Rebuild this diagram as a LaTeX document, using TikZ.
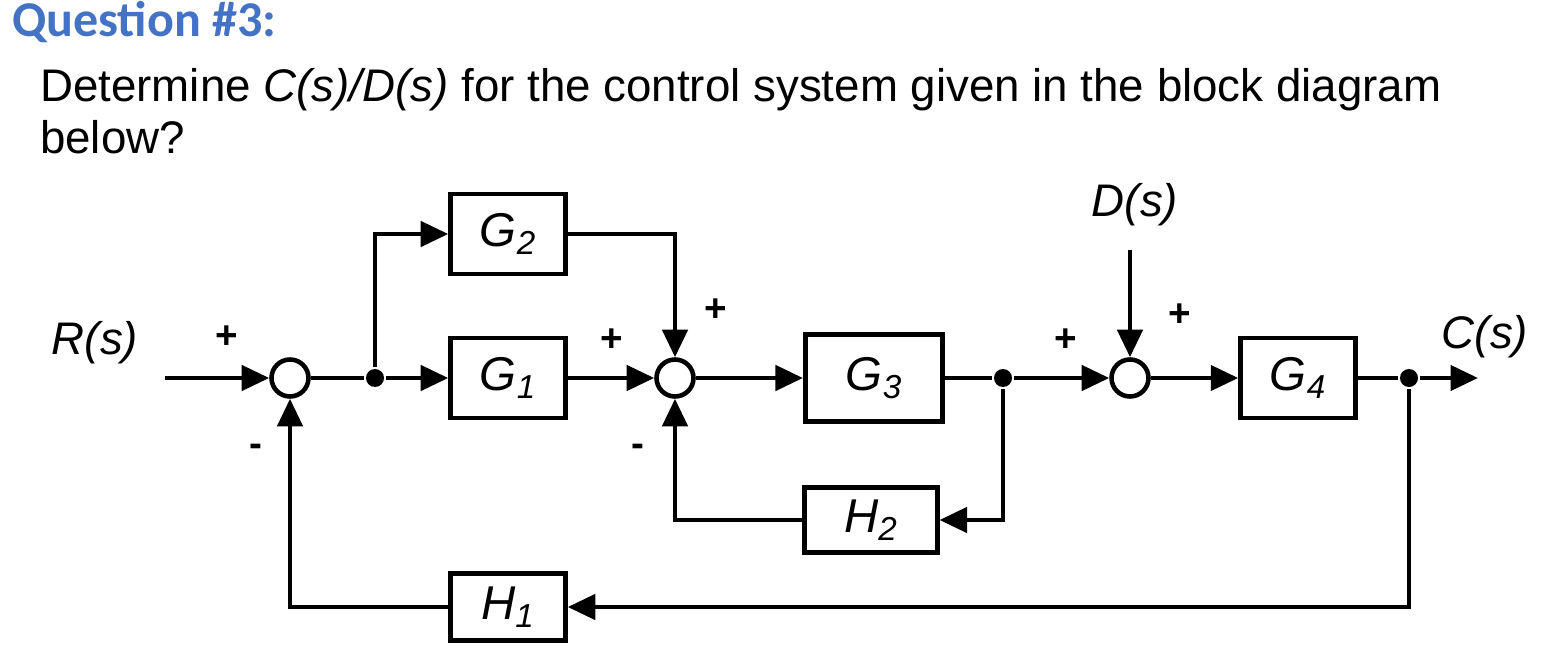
\documentclass[tikz,border=0pt]{standalone}
\usepackage{fontspec}
\setmainfont{Liberation Sans}
\newfontfamily\hdfont{Carlito}
\usetikzlibrary{arrows.meta}
\definecolor{qblue}{RGB}{68,114,196}
\begin{document}
\begin{tikzpicture}[x=0.02cm,y=-0.02cm,
  line width=2.6pt,
  blk/.style={draw,line width=2.6pt,minimum width=2.3cm,minimum height=1.6cm,inner sep=0pt,font=\fontsize{27}{29}\selectfont\itshape},
  sum/.style={draw,circle,line width=2.6pt,minimum size=0.74cm,inner sep=0pt},
  dot/.style={circle,fill,inner sep=0pt,minimum size=0.36cm},
  arr/.style={-{Triangle[length=0.55cm,width=0.5cm]}},
  lbl/.style={font=\fontsize{26}{28}\selectfont\itshape},
  sgn/.style={font=\fontsize{22}{24}\selectfont\bfseries}]
\useasboundingbox (0,0) rectangle (1564,672);
\node[anchor=west,text=qblue,font=\hdfont\fontsize{28.5}{30}\selectfont\bfseries] (title) at (4,22) {Question \#3:};
\node[anchor=west,font=\fontsize{26}{30}\selectfont] (q1) at (32,90) {Determine \textit{C(s)/D(s)} for the control system given in the block diagram};
\node[anchor=west,font=\fontsize{26}{30}\selectfont] (q2) at (32,137) {below?};
% blocks
\node[sum] (s1) at (290,378) {};
\node[sum] (s2) at (675,378) {};
\node[sum] (s3) at (1130,378) {};
\node[blk] (G2) at (508,234) {G\textsubscript{2}};
\node[blk] (G1) at (508,378) {G\textsubscript{1}};
\node[blk,minimum width=2.75cm,minimum height=1.75cm] (G3) at (874,378) {G\textsubscript{3}};
\node[blk] (G4) at (1298,378) {G\textsubscript{4}};
\node[blk,minimum width=2.65cm,minimum height=1.3cm] (H2) at (871,520) {H\textsubscript{2}};
\node[blk,minimum height=1.35cm] (H1) at (508,607) {H\textsubscript{1}};
\node[dot] (d1) at (375,378) {};
\node[dot] (d2) at (1003,378) {};
\node[dot] (d3) at (1409,378) {};
\coordinate (rin) at (165,378);
\coordinate (cout) at (1478,378);
\coordinate (din) at (1130,250);
% labels
\node[lbl] (R) at (95,343) {R(s)};
\node[lbl] (C) at (1485,337) {C(s)};
\node[lbl] (D) at (1135,205) {D(s)};
\node[sgn] at (227,337) {+};
\node[sgn] at (256,450) {-};
\node[sgn] at (612,340) {+};
\node[sgn] at (716,310) {+};
\node[sgn] at (638,450) {-};
\node[sgn] at (1066,340) {+};
\node[sgn] at (1180,315) {+};
% connectors
\draw[arr] (rin) -- (s1);
\draw (s1) -- (d1);
\draw[arr] (d1) -- (G1);
\draw[arr] (d1) |- (G2);
\draw[arr] (G2.east) -| (s2.north);
\draw[arr] (G1) -- (s2);
\draw[arr] (s2) -- (G3);
\draw (G3) -- (d2);
\draw[arr] (d2) -- (s3);
\draw[arr] (d2) |- (H2.east);
\draw[arr] (H2.west) -| (s2.south);
\draw[arr] (din) -- (s3);
\draw[arr] (s3) -- (G4);
\draw (G4) -- (d3);
\draw[arr] (d3) -- (cout);
\draw[arr] (d3) |- (H1.east);
\draw[arr] (H1.west) -| (s1.south);
\end{tikzpicture}
\end{document}
